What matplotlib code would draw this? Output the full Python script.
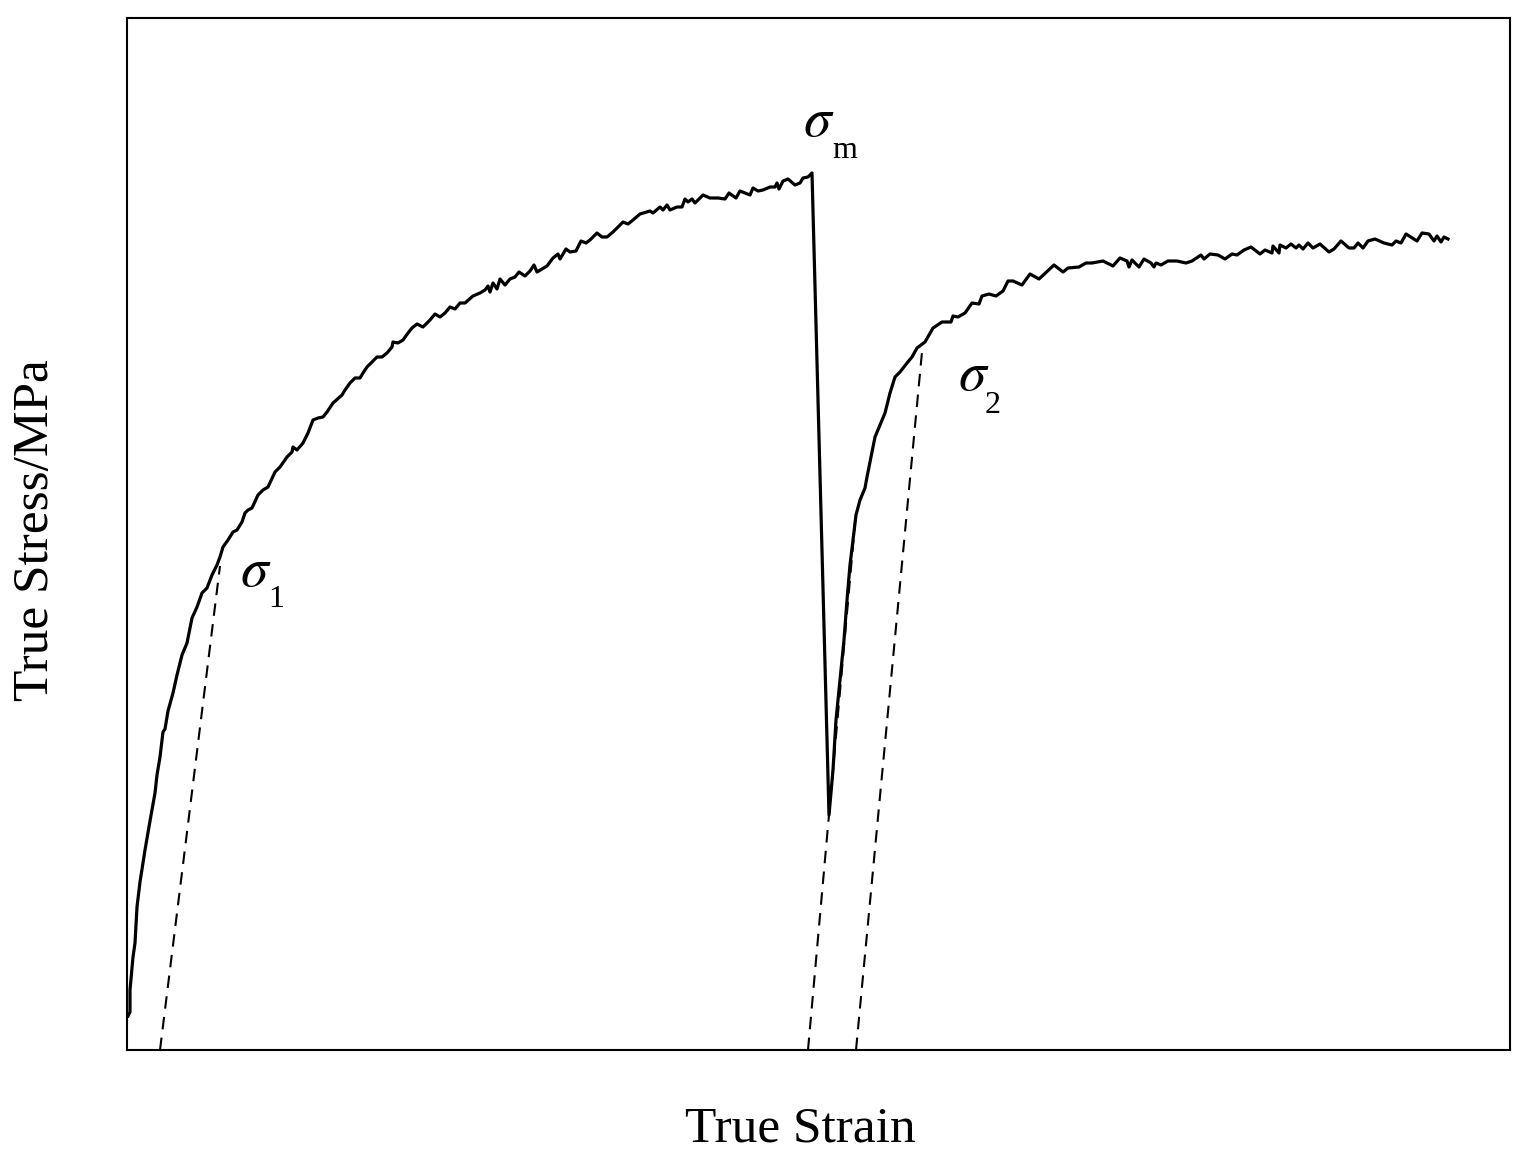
import numpy as np
import matplotlib
matplotlib.use('Agg')
import matplotlib.pyplot as plt

# --- data (strain, true stress) ---
# first hit, up to the peak stress sigma_m, then unloading to the V
strain_1 = [0.001, 0.003, 0.003, 0.006, 0.008, 0.010, 0.013, 0.018, 0.023, 0.028,
            0.030, 0.033, 0.036, 0.038, 0.041, 0.046, 0.050, 0.055, 0.060, 0.065,
            0.070, 0.075, 0.080, 0.085, 0.090, 0.093, 0.096, 0.101, 0.106, 0.110,
            0.115, 0.118, 0.121, 0.125, 0.131, 0.136, 0.141, 0.148, 0.153, 0.160,
            0.165, 0.166, 0.170, 0.176, 0.181, 0.186, 0.191, 0.196, 0.200, 0.206,
            0.215, 0.218, 0.223, 0.228, 0.233, 0.236, 0.240, 0.245, 0.250, 0.255,
            0.260, 0.265, 0.266, 0.271, 0.276, 0.281, 0.285, 0.290, 0.296, 0.303,
            0.308, 0.313, 0.318, 0.323, 0.328, 0.333, 0.338, 0.346, 0.353, 0.358,
            0.361, 0.363, 0.366, 0.370, 0.373, 0.378, 0.383, 0.388, 0.392, 0.398,
            0.403, 0.407, 0.410, 0.420, 0.426, 0.431, 0.433, 0.439, 0.443, 0.449,
            0.454, 0.459, 0.463, 0.470, 0.475, 0.480, 0.486, 0.490, 0.496, 0.501,
            0.506, 0.513, 0.523, 0.526, 0.533, 0.536, 0.540, 0.543, 0.550, 0.555,
            0.558, 0.561, 0.565, 0.568, 0.576, 0.583, 0.591, 0.598, 0.602, 0.609,
            0.613, 0.623, 0.626, 0.631, 0.636, 0.643, 0.648, 0.650, 0.652, 0.656,
            0.661, 0.668, 0.673, 0.676, 0.681, 0.685]
stress_1 = [34, 38, 60, 93, 107, 143, 168, 200, 229, 257,
            275, 293, 318, 321, 339, 357, 375, 395, 407, 432,
            443, 457, 462, 475, 485, 493, 503, 510, 518, 520,
            528, 537, 540, 542, 555, 560, 563, 578, 583, 593,
            598, 603, 600, 607, 617, 630, 632, 633, 638, 647,
            655, 660, 667, 672, 672, 677, 683, 688, 693, 693,
            697, 703, 708, 707, 710, 717, 722, 726, 723, 730,
            736, 733, 737, 743, 741, 747, 747, 754, 757, 760,
            764, 758, 767, 761, 771, 765, 771, 773, 778, 774,
            779, 785, 778, 784, 792, 796, 791, 801, 798, 799,
            809, 807, 810, 817, 813, 813, 818, 822, 828, 826,
            830, 836, 839, 837, 843, 840, 845, 840, 843, 843,
            851, 848, 851, 847, 855, 852, 852, 851, 857, 852,
            859, 855, 862, 859, 860, 863, 863, 867, 861, 869,
            871, 865, 867, 872, 873, 877]

# reloading after the interpass interval (second hit)
strain_2 = [0.702, 0.706, 0.709, 0.713, 0.717, 0.720, 0.723, 0.726, 0.729, 0.733,
            0.738, 0.740, 0.748, 0.758, 0.763, 0.768, 0.773, 0.780, 0.785, 0.790,
            0.798, 0.806, 0.815, 0.824, 0.826, 0.831, 0.838, 0.845, 0.852, 0.855,
            0.862, 0.869, 0.876, 0.881, 0.886, 0.895, 0.903, 0.912, 0.927, 0.936,
            0.941, 0.952, 0.959, 0.965, 0.976, 0.986, 0.993, 1.000, 1.002, 1.005,
            1.012, 1.017, 1.024, 1.027, 1.029, 1.034, 1.041, 1.050, 1.059, 1.065,
            1.074, 1.077, 1.083, 1.091, 1.098, 1.105, 1.110, 1.117, 1.124, 1.133,
            1.138, 1.145, 1.146, 1.152, 1.153, 1.159, 1.164, 1.169, 1.172, 1.176,
            1.181, 1.186, 1.193, 1.202, 1.207, 1.214, 1.222, 1.227, 1.231, 1.236,
            1.241, 1.248, 1.257, 1.265, 1.269, 1.274, 1.279, 1.290, 1.295, 1.302,
            1.307, 1.310, 1.314, 1.317, 1.321]
stress_2 = [235, 280, 330, 370, 410, 450, 485, 510, 535, 550,
            562, 573, 613, 637, 657, 673, 678, 687, 693, 702,
            708, 722, 728, 728, 734, 733, 737, 747, 746, 754,
            756, 754, 759, 769, 769, 765, 776, 771, 785, 778,
            782, 783, 787, 787, 789, 784, 792, 789, 783, 790,
            783, 791, 787, 783, 787, 785, 789, 789, 787, 789,
            795, 791, 796, 795, 791, 796, 795, 800, 803, 796,
            800, 797, 804, 797, 805, 802, 806, 802, 805, 801,
            807, 802, 806, 798, 801, 809, 802, 802, 807, 802,
            809, 811, 807, 805, 809, 807, 816, 809, 817, 816,
            809, 814, 808, 813, 811]

# 0.2% offset-style construction lines: (strain, stress) end points
offset_1 = ([0.033, 0.093], [0, 484])
offset_m = ([0.681, 0.729], [0, 538])
offset_2 = ([0.729, 0.795], [0, 698])

plt.rcParams['font.family'] = ['Liberation Serif', 'DejaVu Serif']
plt.rcParams['mathtext.fontset'] = 'stix'

fig = plt.figure(figsize=(15.38, 11.66), dpi=100)
ax = fig.add_axes([127 / 1538, 116 / 1166, 1383 / 1538, 1032 / 1166])

# solid curve: first hit + second hit joined at the minimum of the V
ax.plot(strain_1 + strain_2, stress_1 + stress_2, color='black', lw=2.3,
        solid_joinstyle='round')

for xs, ys in (offset_1, offset_m, offset_2):
    ax.plot(xs, ys, color='black', lw=1.5, linestyle=(0, (6, 4)))

ax.set_xlim(0, 1.383)
ax.set_ylim(0, 1032)
ax.set_xticks([])
ax.set_yticks([])
for sp in ax.spines.values():
    sp.set_linewidth(1.5)

xl = ax.set_xlabel('True Strain', fontsize=37)
xl.set_va('center')
ax.xaxis.set_label_coords(0.487, -0.077)
yl = ax.set_ylabel('True Stress/MPa', fontsize=37)
yl.set_va('center')
ax.yaxis.set_label_coords(-0.066, 0.504)


def sigma_label(xy, sub, dsig, dsub):
    ax.annotate(r'$\sigma$', xy=xy, xytext=dsig, textcoords='offset pixels',
                ha='left', va='baseline', fontsize=40)
    ax.annotate(sub, xy=xy, xytext=dsub, textcoords='offset pixels',
                ha='left', va='baseline', fontsize=23)


sigma_label((offset_1[0][1], offset_1[1][1]), '1', (20, -20), (48, -41))
sigma_label((strain_1[-1], stress_1[-1]), 'm', (-9, 37), (20, 15))
sigma_label((offset_2[0][1], offset_2[1][1]), '2', (36, -38), (63, -61))

fig.savefig('out.png', dpi=100)
